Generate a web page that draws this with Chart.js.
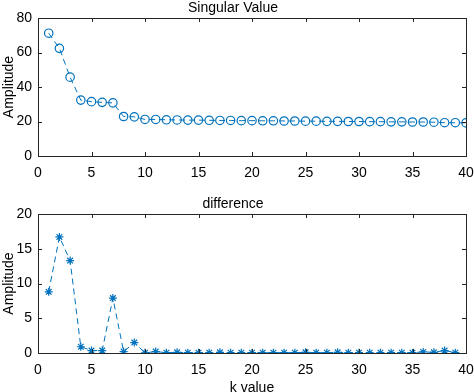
<!DOCTYPE html>
<html>
<head>
<meta charset="utf-8">
<script src="https://cdn.jsdelivr.net/npm/chart.js@4/dist/chart.umd.min.js"></script>
<style>
  html, body { margin: 0; padding: 0; background: #fff; overflow: hidden; }
  #wrap { position: relative; width: 474px; height: 392px; overflow: hidden; }
  #topChart { position: absolute; left: 0; top: 0; }
  #bottomChart { position: absolute; left: 0; top: 196px; }
</style>
</head>
<body>
<div id="wrap">
  <canvas id="topChart" width="478" height="196"></canvas>
  <canvas id="bottomChart" width="478" height="204"></canvas>
</div>
<script>
// k values
const kSingular = [1, 2, 3, 4, 5, 6, 7, 8, 9, 10, 11, 12, 13, 14, 15, 16, 17, 18, 19, 20,
    21, 22, 23, 24, 25, 26, 27, 28, 29, 30, 31, 32, 33, 34, 35, 36, 37, 38, 39, 40];
const kDifference = kSingular.slice(0, 39);

// singular values
const singularValues = [71.2, 62.4, 45.7, 32.4, 31.5, 31.1, 30.8, 22.9, 22.7, 21.2,
    21.2, 21.0, 20.9, 20.8, 20.8, 20.7, 20.6, 20.6, 20.5, 20.5,
    20.4, 20.4, 20.3, 20.3, 20.2, 20.2, 20.1, 20.1, 20.0, 20.0,
    19.9, 19.9, 19.8, 19.8, 19.7, 19.7, 19.6, 19.3, 19.3, 19.2];

// difference between consecutive singular values
const differenceValues = [8.8, 16.7, 13.3, 0.9, 0.35, 0.35, 7.9, 0.2, 1.5, 0.02,
    0.2, 0.05, 0.1, 0.05, 0.05, 0.05, 0.1, 0.05, 0.05, 0.05,
    0.05, 0.05, 0.05, 0.05, 0.1, 0.05, 0.05, 0.1, 0.05, 0.05,
    0.05, 0.05, 0.05, 0.05, 0.05, 0.15, 0.1, 0.35, 0.05];

const xTicks = [0, 5, 10, 15, 20, 25, 30, 35, 40];

const BLUE = '#0072BD';
const AXIS = '#262626';
const FONT = 'Liberation Sans, Arial, Helvetica, sans-serif';

// draws the axes box and inward tick marks like MATLAB
const boxPlugin = {
    id: 'boxTicks',
    afterDraw(chart) {
        const ctx = chart.ctx;
        const a = chart.chartArea;
        const xs = chart.scales.x;
        const ys = chart.scales.y;
        const len = 4;
        ctx.save();
        ctx.strokeStyle = AXIS;
        ctx.lineWidth = 1;
        ctx.strokeRect(Math.round(a.left) + 0.5, Math.round(a.top) + 0.5,
            Math.round(a.right - a.left), Math.round(a.bottom - a.top));
        ctx.beginPath();
        xs.ticks.forEach(t => {
            const px = Math.round(xs.getPixelForValue(t.value)) + 0.5;
            ctx.moveTo(px, a.bottom);
            ctx.lineTo(px, a.bottom - len);
            ctx.moveTo(px, a.top);
            ctx.lineTo(px, a.top + len);
        });
        ys.ticks.forEach(t => {
            const py = Math.round(ys.getPixelForValue(t.value)) + 0.5;
            ctx.moveTo(a.left, py);
            ctx.lineTo(a.left + len, py);
            ctx.moveTo(a.right, py);
            ctx.lineTo(a.right - len, py);
        });
        ctx.stroke();
        ctx.restore();
    }
};

function makeChart(id, opts) {
    const ctx = document.getElementById(id).getContext('2d');
    return new Chart(ctx, {
        type: 'line',
        data: {
            datasets: [{
                data: opts.k.map((k, i) => ({ x: k, y: opts.values[i] })),
                borderColor: BLUE,
                borderWidth: 1,
                borderDash: [6, 4],
                pointStyle: opts.pointStyle,
                pointRadius: opts.pointRadius,
                pointBorderWidth: 1.2,
                pointBorderColor: BLUE,
                pointBackgroundColor: 'rgba(0,0,0,0)',
                tension: 0
            }]
        },
        options: {
            responsive: false,
            animation: false,
            devicePixelRatio: 1,
            layout: { padding: { left: 0, right: 12, top: 0, bottom: 0 } },
            plugins: {
                legend: { display: false },
                tooltip: { enabled: false },
                title: {
                    display: true,
                    text: opts.title,
                    color: '#000',
                    font: { family: FONT, size: 14, weight: 'normal' },
                    padding: { top: 0, bottom: 1.2 }
                }
            },
            scales: {
                x: {
                    type: 'linear',
                    min: 0,
                    max: 40,
                    afterBuildTicks: s => { s.ticks = xTicks.map(v => ({ value: v })); },
                    grid: { display: false, drawTicks: false },
                    border: { display: false },
                    ticks: {
                        color: '#000',
                        padding: 9,
                        maxRotation: 0,
                        autoSkip: false,
                        font: { family: FONT, size: 14 }
                    },
                    title: {
                        display: !!opts.xTitle,
                        text: opts.xTitle || '',
                        color: '#000',
                        font: { family: FONT, size: 14 },
                        padding: { top: 0, bottom: 3.2 }
                    },
                    afterFit: s => {
                        s.height = opts.xHeight;
                        s.paddingLeft = 0;
                        s.paddingRight = 0;
                    }
                },
                y: {
                    min: 0,
                    max: opts.yMax,
                    ticks: {
                        stepSize: opts.yStep,
                        color: '#000',
                        padding: 6,
                        font: { family: FONT, size: 14 }
                    },
                    grid: { display: false, drawTicks: false },
                    border: { display: false },
                    title: {
                        display: true,
                        text: 'Amplitude',
                        color: '#000',
                        font: { family: FONT, size: 14 },
                        padding: { top: 1, bottom: 0 }
                    },
                    afterFit: s => {
                        s.width = 38;
                        s.paddingTop = 0;
                        s.paddingBottom = 0;
                    }
                }
            }
        },
        plugins: [boxPlugin]
    });
}

makeChart('topChart', {
    k: kSingular,
    values: singularValues,
    title: 'Singular Value',
    pointStyle: 'circle',
    pointRadius: 4.2,
    yMax: 80,
    yStep: 20,
    xHeight: 40
});

makeChart('bottomChart', {
    k: kDifference,
    values: differenceValues,
    title: 'difference',
    pointStyle: 'star',
    pointRadius: 4,
    yMax: 20,
    yStep: 5,
    xHeight: 47,
    xTitle: 'k value'
});
</script>
</body>
</html>
